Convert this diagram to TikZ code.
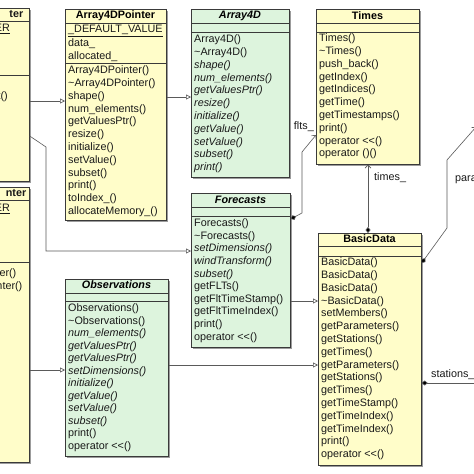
\documentclass[tikz,border=0pt]{standalone}
\usepackage{fontspec}
\setmainfont{Liberation Sans}
\usetikzlibrary{arrows.meta,shadows}
\definecolor{cyel}{HTML}{FFFDC9}
\definecolor{cgrn}{HTML}{DDF4DD}
\definecolor{cline}{HTML}{3A3A3A}
\definecolor{cconn}{HTML}{5A5A5A}
\newcommand{\mlist}[5]{\foreach \t [count=\i] in {#5} {\node[mtext] (#1m\i) at (#2,{#3+(\i-1)*#4}) {\t};}}
\newcommand{\shl}{\mbox{<}\kern0pt\mbox{<}}
\begin{document}
\begin{tikzpicture}[x=1pt,y=-1pt,
  font=\fontsize{10.8}{12.5}\selectfont,
  classbox/.style={draw=cline, line width=0.7pt, inner sep=0pt, anchor=north west,
    drop shadow={shadow xshift=2pt, shadow yshift=-2pt, fill=black!55, opacity=0.7}},
  ybox/.style={classbox, fill=cyel},
  gbox/.style={classbox, fill=cgrn},
  mtext/.style={anchor=west, inner sep=0pt, text=black!90},
  ftext/.style={anchor=east, inner sep=0pt, text=black!90},
  ttext/.style={anchor=center, inner sep=0pt, font=\fontsize{10.8}{12.5}\selectfont\bfseries},
  divider/.style={draw=cline, line width=0.6pt},
  gen/.style={draw=cconn, line width=0.6pt, -{Triangle[open, length=5pt, width=5pt]}},
  assoc/.style={draw=cconn, line width=0.6pt, {Diamond[length=6pt, width=5pt, fill=black]}-{Straight Barb[length=3pt, width=6pt]}},
  lbl/.style={inner sep=0pt, text=black!90}
]
\useasboundingbox (0,0) rectangle (474,474);
\clip (0,0) rectangle (474,474);
\fill[white] (0,0) rectangle (474,474);

% ---------- partial left boxes ----------
\node[ybox, minimum width=40pt, minimum height=173pt] (lpa) at (-11,8) {};
\draw[divider] (-11,21) -- (29,21);
\draw[divider] (-11,75) -- (29,75);
\node[ftext, font=\fontsize{10.8}{12.5}\selectfont\bfseries] (lpat) at (23.5,14) {ter};
\node[ftext] (lpaa) at (10,29) {\underline{ER}};
\node[ftext] (lpam) at (8,97) {t()};

\node[ybox, minimum width=40pt, minimum height=275pt] (lpb) at (-11,187) {};
\draw[divider] (-11,200) -- (29,200);
\draw[divider] (-11,262) -- (29,262);
\node[ftext, font=\fontsize{10.8}{12.5}\selectfont\bfseries] (lpbt) at (26.5,193) {nter};
\node[ftext] (lpba) at (10,209) {\underline{ER}};
\node[ftext] (lpbm1) at (16.5,274) {er()};
\node[ftext] (lpbm2) at (22.5,287) {nter()};

% ---------- Array4DPointer ----------
\node[ybox, minimum width=101pt, minimum height=211pt] (a4p) at (65,9) {};
\node[ttext] (a4pt) at (115.5,16) {Array4DPointer};
\draw[divider] (65,23) -- (166,23);
\mlist{a4pa}{68}{31}{12.6}{\underline{\_DEFAULT\_VALUE}, data\_, allocated\_}
\draw[divider] (65,63) -- (166,63);
\mlist{a4p}{68}{71}{12.8}{Array4DPointer(), \textasciitilde Array4DPointer(), shape(), num\_elements(), getValuesPtr(), resize(), initialize(), setValue(), subset(), print(), toIndex\_(), allocateMemory\_()}

% ---------- Array4D ----------
\node[gbox, minimum width=98pt, minimum height=168pt] (a4d) at (191,9) {};
\node[ttext, font=\fontsize{10.8}{12.5}\selectfont\bfseries\itshape] (a4dt) at (240,16) {Array4D};
\draw[divider] (191,23) -- (289,23);
\draw[divider] (191,32) -- (289,32);
\mlist{a4d}{194}{40}{12.8}{Array4D(), \textasciitilde Array4D(), \textit{shape()}, \textit{num\_elements()}, \textit{getValuesPtr()}, \textit{resize()}, \textit{initialize()}, \textit{getValue()}, \textit{setValue()}, \textit{subset()}, \textit{print()}}

% ---------- Times ----------
\node[ybox, minimum width=103pt, minimum height=155pt] (tim) at (316,9) {};
\node[ttext] (timt) at (367.5,16) {Times};
\draw[divider] (316,23) -- (419,23);
\draw[divider] (316,32) -- (419,32);
\mlist{tim}{319}{39}{12.8}{Times(), \textasciitilde Times(), push\_back(), getIndex(), getIndices(), getTime(), getTimestamps(), print(), operator \shl(), operator ()()}

% ---------- Forecasts ----------
\node[gbox, minimum width=99pt, minimum height=154pt] (fc) at (191,193) {};
\node[ttext, font=\fontsize{10.8}{12.5}\selectfont\bfseries\itshape] (fct) at (240.5,200) {Forecasts};
\draw[divider] (191,207) -- (290,207);
\draw[divider] (191,216) -- (290,216);
\mlist{fc}{194}{224}{12.6}{Forecasts(), \textasciitilde Forecasts(), \textit{setDimensions()}, \textit{windTransform()}, \textit{subset()}, getFLTs(), getFltTimeStamp(), getFltTimeIndex(), print(), operator \shl()}

% ---------- Observations ----------
\node[gbox, minimum width=103pt, minimum height=177pt] (obs) at (65,279) {};
\node[ttext, font=\fontsize{10.8}{12.5}\selectfont\bfseries\itshape] (obst) at (116.5,285) {Observations};
\draw[divider] (65,293) -- (168,293);
\draw[divider] (65,301) -- (168,301);
\mlist{obs}{68}{309}{12.5}{Observations(), \textasciitilde Observations(), \textit{num\_elements()}, \textit{getValuesPtr()}, \textit{getValuesPtr()}, \textit{setDimensions()}, \textit{initialize()}, \textit{getValue()}, \textit{setValue()}, \textit{subset()}, print(), operator \shl()}

% ---------- BasicData ----------
\node[ybox, minimum width=103pt, minimum height=232pt] (bd) at (318,233) {};
\node[ttext] (bdt) at (369.5,239) {BasicData};
\draw[divider] (318,246) -- (421,246);
\draw[divider] (318,256) -- (421,256);
\mlist{bd}{321}{263}{12.8}{BasicData(), BasicData(), BasicData(), \textasciitilde BasicData(), setMembers(), getParameters(), getStations(), getTimes(), getParameters(), getStations(), getTimes(), getTimeStamp(), getTimeIndex(), getTimeIndex(), print(), operator \shl()}

% ---------- connectors ----------
\coordinate (bendA) at (46,147);
\coordinate (bendB) at (46,251);
\coordinate (fl1) at (302,213);
\coordinate (fl2) at (302,152);
\coordinate (pa1) at (447,228);
\coordinate (pa2) at (447,160);
\coordinate (paEnd) at (476,127);
\coordinate (stEnd) at (476,383);

\draw[gen] (lpa.east |- 0,101) -- (a4p.west |- 0,101);
\draw[gen] (a4p.east |- 0,97) -- (a4d.west |- 0,97);
\draw[gen] (lpa.east |- 0,136) -- (bendA) -- (bendB) -- (fc.west |- bendB);
\draw[gen] (lpb.east |- 0,370) -- (obs.west |- 0,370);
\draw[gen] (fc.east |- 0,301) -- (bd.west |- 0,301);
\draw[gen] (obs.east |- 0,365) -- (bd.west |- 0,365);

\draw[assoc] (fc.east |- 0,219) -- (fl1) -- (fl2) -- (tim.west |- 0,135);
\draw[assoc] (bd.north -| 368,0) -- (tim.south -| 368,0);
\draw[assoc] (bd.east |- 0,263) -- (pa1) -- (pa2) -- (paEnd);
\draw[draw=cconn, line width=0.6pt, {Diamond[length=6pt, width=5pt, fill=black]}-] (bd.east |- 0,383) -- (stEnd);

\node[lbl, anchor=east] (lflts) at (314,127) {flts\_};
\node[lbl, anchor=west] (ltimes) at (374,178) {times\_};
\node[lbl, anchor=west] (lpara) at (455,180) {para};
\node[lbl, anchor=west] (lstat) at (431,375) {stations\_};
\end{tikzpicture}
\end{document}
